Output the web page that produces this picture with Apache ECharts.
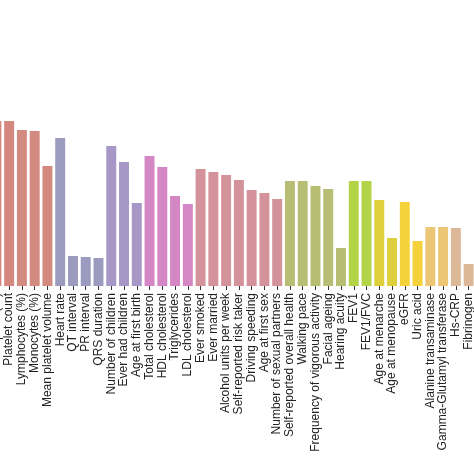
<!DOCTYPE html>
<html>
<head>
<meta charset="utf-8">
<script src="https://cdn.jsdelivr.net/npm/echarts@6/dist/echarts.min.js"></script>
<style>html,body{margin:0;padding:0;background:#fff;overflow:hidden;width:474px;height:474px}#c{width:485px;height:474px;margin-left:-10px}</style>
</head>
<body>
<div id="c"></div>
<script>
const categories = ['Neutrophils (%)', 'Platelet count', 'Lymphocytes (%)', 'Monocytes (%)', 'Mean platelet volume',
  'Heart rate', 'QT interval', 'PR interval', 'QRS duration',
  'Number of children', 'Ever had children', 'Age at first birth',
  'Total cholesterol', 'HDL cholesterol', 'Triglycerides', 'LDL cholesterol',
  'Ever smoked', 'Ever married', 'Alcohol units per week', 'Self-reported risk taker', 'Driving speeding',
  'Age at first sex', 'Number of sexual partners',
  'Self-reported overall health', 'Walking pace', 'Frequency of vigorous activity', 'Facial ageing', 'Hearing acuity',
  'FEV1', 'FEV1/FVC', 'Age at menarche', 'Age at menopause', 'eGFR', 'Uric acid',
  'Alanine transaminase', 'Gamma-Glutamyl transferase', 'Hs-CRP', 'Fibrinogen'];

// bar heights (arbitrary units)
const values = [165, 165, 156, 155, 120, 148, 30, 29, 28,
  140, 124, 83, 130, 119, 90, 82,
  117, 114, 111, 106, 96, 93, 87,
  105, 105, 100, 97, 38,
  105, 105, 86, 48, 84, 45,
  59, 59, 58, 22];

const colors = ['#d4877d', '#d4877d', '#d38a80', '#d38a80', '#d28a7e',
  '#9a9bbf', '#9a9bbf', '#9a9bbf', '#9a9bbf',
  '#a697c6', '#a697c6', '#a697c6',
  '#d586c4', '#d586c4', '#d586c4', '#d586c4',
  '#d4939a', '#d4939a', '#d4939a', '#d4939a', '#d4939a', '#d4939a', '#d4939a',
  '#b8bd74', '#b8bd74', '#b8bd74', '#b8bd74', '#b8bd74',
  '#b2d446', '#b2d446', '#e0cf3c', '#e0cf3c', '#f6d23a', '#f6d23a',
  '#ecc674', '#ecc674', '#dcb898', '#dcb898'];

const chart = echarts.init(document.getElementById('c'));
chart.setOption({
  animation: false,
  grid: { left: 0, right: 0, top: 0, bottom: 188 },
  xAxis: {
    type: 'category',
    data: categories,
    offset: 4,
    axisLine: { show: false },
    axisTick: { show: true, alignWithLabel: true, length: 4, lineStyle: { color: '#333' } },
    axisLabel: { rotate: 90, interval: 0, margin: 3, fontSize: 12, color: '#222', fontFamily: 'Liberation Sans' }
  },
  yAxis: { type: 'value', min: 0, max: 286, show: false },
  series: [{
    type: 'bar',
    barCategoryGap: '22%',
    data: values.map((v, i) => ({ value: v, itemStyle: { color: colors[i] } }))
  }]
});
</script>
</body>
</html>
